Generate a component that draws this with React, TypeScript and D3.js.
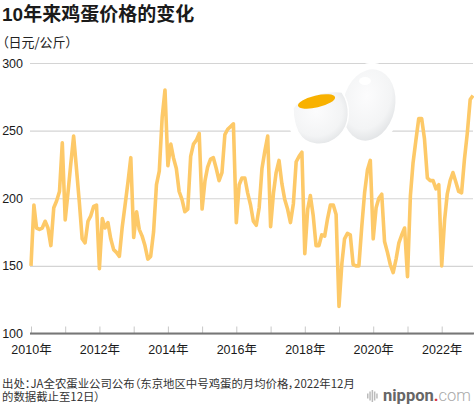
import * as d3 from 'd3'
import {useRef, useEffect} from 'react'

const title = '10年来鸡蛋价格的变化'
const unit = '（日元/公斤）'
const sourceLines = [
  '出处：JA全农蛋业公司公布（东京地区中号鸡蛋的月均价格，2022年12月',
  '的数据截止至12日）',
]
const yTicks = [100, 150, 200, 250, 300]
const labelYears = [2010, 2012, 2014, 2016, 2018, 2020, 2022]
const tickYears = [2010, 2011, 2012, 2013, 2014, 2015, 2016, 2017, 2018, 2019, 2020, 2021, 2022]

// monthly price, Jan 2010 - Dec 2022
const prices = [
  150, 195, 178, 177, 178, 183, 178, 165, 193, 198, 205, 241,
  184, 205, 225, 246, 222, 197, 170, 167, 183, 187, 194, 195,
  148, 185, 178, 182, 170, 162, 160, 157, 179, 195, 212, 230,
  171, 190, 177, 172, 165, 155, 157, 175, 210, 220, 260, 280,
  224, 240, 230, 222, 205, 199, 190, 192, 231, 240, 243, 248,
  192, 213, 223, 229, 230, 222, 213, 219, 247, 251, 253, 255,
  182, 210, 215, 215, 204, 195, 183, 180, 193, 222, 235, 246,
  179, 204, 219, 228, 211, 199, 192, 182, 196, 227, 231, 234,
  159, 192, 202, 187, 165, 165, 173, 172, 185, 195, 195, 188,
  120, 152, 170, 174, 173, 151, 150, 150, 179, 204, 221, 228,
  170, 193, 200, 203, 168, 160, 151, 145, 155, 167, 173, 178,
  142, 202, 226, 243, 259, 259, 244, 215, 213, 213, 207, 210,
  150, 184, 203, 213, 219, 212, 205, 204, 229, 248, 273, 276,
]

const width = 474
const height = 405
const margin = {left: 31, right: 1, top: 63, bottom: 72}

export default function App() {
  const svgRef = useRef(null)

  useEffect(() => {
    const SVG = d3.select(svgRef.current)
    SVG.selectAll('*').remove()

    const months = d3.range(prices.length).map(i => new Date(2010, i, 1))
    const xScale = d3.scaleTime()
      .domain([months[0], months[months.length - 1]])
      .range([margin.left, width - margin.right])
    const yScale = d3.scaleLinear()
      .domain([100, 300])
      .range([height - margin.bottom + 0.5, margin.top])

    const sans = '"Liberation Sans", "Noto Sans CJK SC", sans-serif'
    const cjk = '"Noto Sans CJK SC", sans-serif'

    SVG.append('text').attr('x', 2).attr('y', 20.5)
      .attr('font-family', sans).attr('font-size', 19).attr('font-weight', 700)
      .attr('fill', '#1a1a1a').text(title)
    SVG.append('text').attr('x', 2).attr('y', 47)
      .attr('font-family', cjk).attr('font-size', 13)
      .style('font-feature-settings', '"palt"')
      .attr('fill', '#222').text(unit)

    // gridlines
    const yAxis = d3.axisLeft(yScale)
      .tickValues(yTicks)
      .tickSize(-(width - margin.left))
      .tickPadding(8)
    const yG = SVG.append('g')
      .attr('transform', `translate(${margin.left - 1},0)`)
      .call(yAxis)
    yG.select('.domain').remove()
    yG.selectAll('line').attr('stroke', '#d4d4d4').attr('stroke-width', 1.2)
    yG.selectAll('text')
      .attr('x', -7)
      .attr('text-anchor', 'end')
      .attr('font-family', sans).attr('font-size', 12.5).attr('fill', '#1a1a1a')

    // egg sits on a white halo that cuts the 250 gridline
    const defs = SVG.append('defs')
    const shell = defs.append('radialGradient').attr('id', 'shell')
      .attr('cx', '42%').attr('cy', '38%').attr('r', '65%')
    shell.append('stop').attr('offset', '0%').attr('stop-color', '#fcfcfd')
    shell.append('stop').attr('offset', '72%').attr('stop-color', '#f3f4f5')
    shell.append('stop').attr('offset', '100%').attr('stop-color', '#e2e4e6')

    const halfEgg = 'M293,108 C300,97 325,90 342,92 C351,105 351,125 339,136 C326,148 306,147 298,132 C294,124 293,116 293,108 Z'
    const egg = SVG.append('g')
    egg.append('ellipse').attr('cx', 369).attr('cy', 105).attr('rx', 26).attr('ry', 36)
      .attr('transform', 'rotate(12 369 105)')
      .attr('fill', '#fff').attr('stroke', '#fff').attr('stroke-width', 13)
    egg.append('path').attr('d', halfEgg)
      .attr('fill', '#fff').attr('stroke', '#fff').attr('stroke-width', 13)
    egg.append('ellipse').attr('cx', 369).attr('cy', 105).attr('rx', 26).attr('ry', 36)
      .attr('transform', 'rotate(12 369 105)')
      .attr('fill', 'url(#shell)')
    egg.append('ellipse').attr('cx', 365).attr('cy', 81).attr('rx', 6).attr('ry', 4)
      .attr('fill', '#ffffff')
    egg.append('path').attr('d', halfEgg)
      .attr('fill', 'url(#shell)').attr('stroke', '#fff').attr('stroke-width', 1.5)
    egg.append('ellipse').attr('cx', 316.5).attr('cy', 101.5).attr('rx', 19).attr('ry', 6)
      .attr('transform', 'rotate(-13 316.5 101.5)')
      .attr('fill', '#f8b100')

    // year ticks point up from the axis, only even years get a label
    const xAxis = d3.axisBottom(xScale)
      .tickValues(tickYears.map(y => new Date(y, 0, 1)))
      .tickSize(-7)
      .tickPadding(6)
      .tickFormat((d: any) => labelYears.includes(d.getFullYear()) ? `${d.getFullYear()}年` : '')
    const xG = SVG.append('g')
      .attr('transform', `translate(0,${height - margin.bottom + 0.5})`)
      .call(xAxis)
    xG.select('.domain').remove()
    xG.selectAll('line').attr('stroke', '#c8c8c8').attr('stroke-width', 1)
    xG.selectAll('text')
      .attr('y', 12)
      .attr('font-family', sans).attr('font-size', 12.5).attr('fill', '#1a1a1a')
    SVG.append('line')
      .attr('x1', margin.left - 1).attr('x2', width)
      .attr('y1', yScale(100)).attr('y2', yScale(100))
      .attr('stroke', '#777').attr('stroke-width', 2)

    const line = d3.line<number>()
      .x((d, i) => xScale(months[i]))
      .y(d => yScale(d))
    SVG.append('path')
      .datum(prices)
      .attr('d', line)
      .attr('fill', 'none')
      .attr('stroke', '#fdc968')
      .attr('stroke-width', 3.6)
      .attr('stroke-linejoin', 'round')

    SVG.selectAll('text.source')
      .data(sourceLines)
      .enter()
      .append('text')
      .attr('class', 'source')
      .attr('x', 2)
      .attr('y', (d, i) => 387.5 + i * 13)
      .attr('font-family', cjk).attr('font-size', 11.4).attr('fill', '#333')
      .style('font-feature-settings', '"palt"')
      .text(d => d)

    // nippon.com logo
    const logo = SVG.append('g')
    d3.range(5).forEach(i => {
      const h = [5, 9, 12, 9, 5][i]
      logo.append('rect').attr('x', 367 + i * 2.3).attr('y', 396 - h / 2)
        .attr('width', 1.5).attr('height', h).attr('fill', '#bbb')
    })
    const word = logo.append('text').attr('x', 383).attr('y', 401)
      .attr('font-family', 'Roboto, sans-serif').attr('font-size', 16.5)
    word.append('tspan').attr('fill', '#666').attr('font-weight', 700).text('nippon')
    word.append('tspan').attr('fill', '#d6323a').attr('font-weight', 700).text('.')
    word.append('tspan').attr('fill', '#aaa').attr('font-weight', 300).text('com')
  }, [])

  return (
    <svg ref={svgRef} width={width} height={height}
      style={{position: 'absolute', left: 0, top: 0, background: '#fff'}} />
  )
}
